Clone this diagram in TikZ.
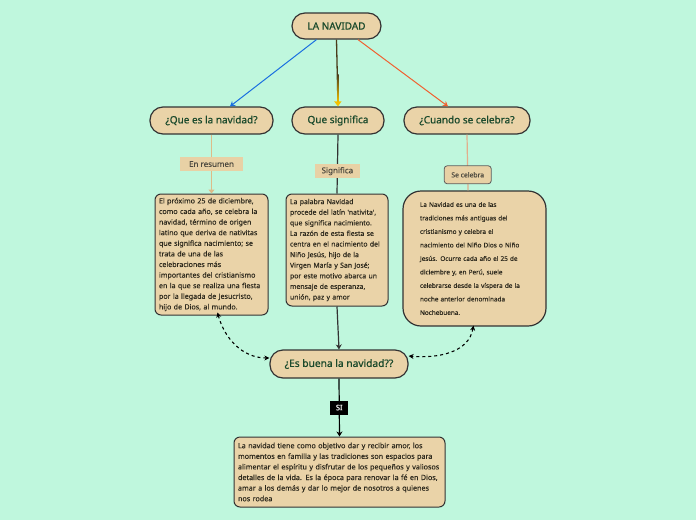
\documentclass[tikz,border=0pt]{standalone}
\usepackage{fontspec}
\setmainfont{Noto Sans}
\newfontfamily\medfont{Noto Sans}[FakeBold=0.9]
\newfontfamily\bodyfont{Noto Sans}[FakeBold=0.25]
\usetikzlibrary{arrows.meta,calc}
\definecolor{bgc}{HTML}{BFF7DD}
\definecolor{boxc}{HTML}{EAD3A8}
\definecolor{edgec}{HTML}{333333}
\definecolor{titlec}{HTML}{1B4A2C}
\definecolor{bodyc}{HTML}{2E2A1E}
\definecolor{labc}{HTML}{E8D1A5}
\definecolor{bluec}{HTML}{1A6FE0}
\definecolor{orangec}{HTML}{F06030}
\definecolor{darkc}{HTML}{4A3C1A}
\definecolor{yelc}{HTML}{F5C200}
\definecolor{tanc}{HTML}{DDBB88}
\definecolor{pinkc}{HTML}{E2AE8C}
\tikzset{
  pill/.style={draw=edgec,fill=boxc,line width=1.2pt,rounded corners=13pt,
    inner sep=0pt,text=titlec,font=\medfont\fontsize{10}{12}\selectfont},
  textbox/.style={draw=edgec,fill=boxc,line width=1pt,rounded corners=6pt,
    inner sep=0pt,text=bodyc,align=left,anchor=center},
  lab/.style={fill=labc,inner sep=0pt,text=bodyc!85,font=\bodyfont\fontsize{8}{9}\selectfont},
  conn/.style={line width=1pt},
}
\begin{document}
\begin{tikzpicture}[x=1pt,y=-1pt]
\fill[bgc] (0,0) rectangle (696,520);
\useasboundingbox (0,0) rectangle (696,520);

% main nodes
\node[pill,minimum width=89pt,minimum height=26pt] (top) at (336.5,26) {LA NAVIDAD};
\node[pill,minimum width=123pt,minimum height=27pt] (q1) at (211.5,120.5) {¿Que es la navidad?};
\node[pill,minimum width=92pt,minimum height=27pt] (q2) at (338,120.5) {Que significa};
\node[pill,minimum width=126pt,minimum height=27pt] (q3) at (467,120.5) {¿Cuando se celebra?};
\node[pill,minimum width=138pt,minimum height=28pt,font=\medfont\fontsize{10.2}{12}\selectfont] (eb) at (339,364) {¿Es buena la navidad??};

% text boxes
\node[textbox,minimum width=113pt,minimum height=121pt,text width=105pt,
  font=\bodyfont\fontsize{7.1}{10.6}\selectfont] (b1) at (211.5,254.5) {%
El próximo 25 de diciembre,\\
como cada año, se celebra la\\
navidad, término de origen\\
latino que deriva de nativitas\\
que significa nacimiento; se\\
trata de una de las\\
celebraciones más\\
importantes del cristianismo\\
en la que se realiza una fiesta\\
por la llegada de Jesucristo,\\
hijo de Dios, al mundo.};

\node[textbox,minimum width=102pt,minimum height=112pt,text width=94pt,
  font=\bodyfont\fontsize{6.9}{10.6}\selectfont] (b2) at (337,250) {%
La palabra Navidad\\
procede del latín 'nativita',\\
que significa nacimiento.\\
La razón de esta fiesta se\\
centra en el nacimiento del\\
Niño Jesús, hijo de la\\
Virgen María y San José;\\
por este motivo abarca un\\
mensaje de esperanza,\\
unión, paz y amor};

\node[textbox,rounded corners=18pt,line width=1.2pt,minimum width=143pt,minimum height=135pt,text width=109pt,
  font=\bodyfont\fontsize{6.4}{13.5}\selectfont] (b3) at (474.5,258.5) {%
La Navidad es una de las\\
tradiciones más antiguas del\\
cristianismo y celebra el\\
nacimiento del Niño Dios o Niño\\
Jesús. Ocurre cada año el 25 de\\
diciembre y, en Perú, suele\\
celebrarse desde la víspera de la\\
noche anterior denominada\\
Nochebuena.};

\node[textbox,minimum width=211pt,minimum height=70pt,text width=203pt,
  font=\bodyfont\fontsize{7.2}{10.6}\selectfont] (bot) at (339.5,472) {%
La navidad tiene como objetivo dar y recibir amor, los\\
momentos en familia y las tradiciones son espacios para\\
alimentar el espíritu y disfrutar de los pequeños y valiosos\\
detalles de la vida. Es la época para renovar la fé en Dios,\\
amar a los demás y dar lo mejor de nosotros a quienes\\
nos rodea};

% connectors from top
\draw[conn,bluec,-{Stealth[length=5pt,width=6pt]}] ([xshift=-20pt]top.south) -- ([xshift=18.5pt]q1.north);
\draw[conn,orangec,-{Stealth[length=5pt,width=6pt]}] ([xshift=21.5pt]top.south) -- ([xshift=-19pt]q3.north);
\draw[conn,line width=1.3pt,darkc,-{Triangle[length=5pt,width=7pt,color=yelc]}] (top.south) -- (q2.north);
\shade[top color=darkc,bottom color=yelc] ($(q2.north)+(-0.65,-32)$) rectangle ($(q2.north)+(0.65,-4)$);

% to text boxes
\draw[conn,tanc,line width=1.4pt,-{Triangle[length=4pt,width=6pt]}] (q1.south) -- (b1.north)
  node[lab,pos=0.5,minimum width=63pt,minimum height=14pt] (l1) {En resumen};
\draw[conn,edgec,line width=1.2pt] (q2.south) -- (b2.north)
  node[lab,pos=0.62,minimum width=45pt,minimum height=14pt] (l2) {Significa};
\draw[conn,pinkc,line width=1.2pt] (q3.south) -- ([xshift=-6.5pt]b3.north)
  node[lab,pos=0.72,draw=edgec!80,line width=0.8pt,rounded corners=3pt,minimum width=47pt,minimum height=18pt,font=\bodyfont\fontsize{6.8}{8}\selectfont] (l3) {Se celebra};

% to Es buena
\draw[conn,line width=1.2pt,edgec,-{Stealth[length=5pt,width=6pt]}] (b2.south) -- (eb.north);
\draw[conn,black,dashed,line width=1.1pt,{Stealth[length=5pt,width=5pt]}-{Stealth[length=5pt,width=5pt]}]
  ([xshift=6pt,yshift=3pt]b1.south) to[out=-75,in=180] ([yshift=6pt]eb.west);
\draw[conn,black,dashed,line width=1.1pt,{Stealth[length=5pt,width=5pt]}-{Stealth[length=5pt,width=5pt]}]
  ([xshift=-1pt,yshift=1pt]b3.south) to[out=-100,in=-5] ([yshift=8pt]eb.east);

% to bottom
\draw[conn,line width=1.2pt,black,-{Stealth[length=5pt,width=6pt]}] (eb.south) -- (bot.north)
  node[pos=0.5,fill=black,text=white,inner sep=0pt,minimum width=18pt,minimum height=14pt,font=\bodyfont\fontsize{7.5}{8}\selectfont] (si) {SI};
\end{tikzpicture}
\end{document}
